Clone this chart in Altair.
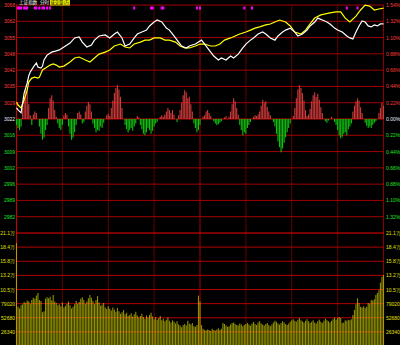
import altair as alt
import pandas as pd

# ---------------- data ----------------
BASE = 3022.3  # previous close (0.00%)

pct_ticks = [1.54, 1.32, 1.10, 0.88, 0.66, 0.44, 0.22, 0.00,
             -0.22, -0.44, -0.66, -0.88, -1.10, -1.32]
left_labels = ["3068", "3062", "3055", "3048", "3042", "3035", "3029", "3022",
               "3016", "3009", "3002", "2996", "2989", "2982"]
right_labels = ["1.54%", "1.32%", "1.10%", "0.88%", "0.66%", "0.44%", "0.22%", "0.00%",
                "0.22%", "0.44%", "0.66%", "0.88%", "1.10%", "1.32%"]

vol_ticks = [21.072, 18.438, 15.804, 13.170, 10.536, 7.902, 5.268, 2.634]
vol_labels = ["21.1万", "18.4万", "15.8万", "13.2万", "10.5万", "79020", "52680", "26340"]

time_grid = [0, 30, 60, 90, 120, 150, 180, 210, 240]

# index line (white)
white_min = [0, 1, 3, 4, 5, 7, 8, 9, 11, 13, 14, 16, 17, 18, 20, 23, 26, 28, 31, 35,
             38, 41, 43, 46, 49, 51, 54, 58, 61, 64, 66, 69, 71, 74, 77, 79, 82, 85, 87, 90,
             92, 95, 98, 100, 103, 106, 108, 111, 113, 117, 119, 121, 124, 127, 129, 132, 134, 137, 140, 142,
             145, 148, 150, 153, 155, 158, 161, 163, 166, 169, 171, 174, 176, 179, 182, 184, 187, 190, 192, 195,
             197, 200, 203, 205, 208, 210, 213, 216, 218, 220, 222, 224, 226, 228, 230, 232, 234, 236, 238, 240]
white_val = [3026.8, 3026.0, 3024.8, 3028.8, 3032.9, 3037.0, 3039.9, 3041.5, 3043.5, 3045.2,
             3043.5, 3043.1, 3043.9, 3046.4, 3048.4, 3049.6, 3050.1, 3050.5, 3051.7, 3053.3,
             3055.4, 3055.8, 3053.7, 3051.7, 3052.5, 3054.5, 3056.2, 3056.6, 3055.4, 3057.0,
             3057.8, 3055.4, 3052.1, 3052.9, 3055.4, 3057.0, 3057.8, 3058.6, 3060.3, 3061.9,
             3062.7, 3061.9, 3059.4, 3058.6, 3056.2, 3053.7, 3052.1, 3051.3, 3052.1, 3052.9,
             3053.7, 3054.5, 3052.1, 3049.6, 3048.0, 3046.4, 3047.2, 3046.4, 3048.0, 3047.2,
             3048.8, 3051.3, 3052.9, 3054.5, 3055.4, 3057.0, 3057.8, 3057.0, 3055.4, 3054.5,
             3056.2, 3057.8, 3058.6, 3059.4, 3057.8, 3056.2, 3057.0, 3058.6, 3060.3, 3061.9,
             3063.5, 3062.7, 3061.9, 3061.1, 3059.4, 3058.6, 3057.8, 3056.2, 3055.4, 3055.0,
             3057.8, 3060.3, 3062.3, 3061.9, 3060.3, 3059.9, 3060.7, 3060.3, 3061.1, 3061.1]

# leading line (yellow)
yellow_min = [0, 1, 3, 5, 7, 8, 10, 12, 14, 15, 17, 20, 22, 24, 26, 28, 31, 35, 38, 41,
              45, 48, 51, 54, 58, 61, 64, 68, 71, 74, 77, 81, 84, 87, 90, 94, 97, 100, 104, 107,
              110, 113, 117, 120, 123, 127, 130, 133, 136, 140, 143, 146, 150, 153, 156, 159, 163, 166, 169, 172,
              176, 179, 182, 186, 189, 192, 195, 199, 202, 205, 209, 212, 215, 218, 222, 225, 228, 231, 234, 237, 240]
yellow_val = [3029.2, 3028.0, 3026.8, 3030.1, 3034.1, 3037.4, 3039.0, 3039.4, 3039.0, 3039.4,
              3042.3, 3043.5, 3044.3, 3044.8, 3044.3, 3043.5, 3043.9, 3045.6, 3047.2, 3047.6,
              3046.4, 3045.6, 3047.2, 3048.8, 3049.6, 3050.5, 3052.1, 3052.9, 3051.7, 3051.3,
              3052.9, 3053.7, 3054.5, 3054.5, 3055.4, 3055.4, 3054.5, 3054.5, 3053.7, 3052.1,
              3051.3, 3051.3, 3052.1, 3052.9, 3052.9, 3052.1, 3052.1, 3052.9, 3054.5, 3055.4,
              3056.2, 3057.0, 3057.8, 3058.6, 3059.4, 3059.9, 3060.7, 3061.1, 3061.9, 3062.7,
              3061.9, 3060.3, 3057.8, 3057.0, 3058.6, 3061.1, 3063.5, 3064.8, 3065.2, 3065.6,
              3066.0, 3066.0, 3063.5, 3061.9, 3064.3, 3066.8, 3068.8, 3068.4, 3066.8, 3067.2, 3067.6]

# red / green strength bars (basis points, one per minute)
strength = [-8, -12, -15, -10, 15, 30, 42, 38, 20, 5,
            -8, 6, 10, 8, 0, -10, -20, -28, -25, -15,
            -8, 15, 28, 32, 25, 12, 3, -6, -12, -15,
            -8, 5, 8, 6, -10, -20, -28, -25, -18, -8,
            8, 10, 6, -6, -4, 10, 18, 23, 20, 10,
            -6, -12, -18, -15, -16, -10, -12, -5, 0, 5,
            7, 4, 15, 25, 35, 42, 46, 40, 30, 15,
            0, -8, -14, -18, -15, -12, -16, -10, -6, 4,
            2, -8, -14, -20, -22, -18, -12, -15, -20, -16,
            -10, -6, -4, 0, 3, 5, 3, 6, 10, 15,
            12, 8, 12, 6, 0, -4, 5, 12, 22, 32,
            39, 36, 28, 30, 20, 10, -6, -12, -18, -15,
            -8, 0, 3, 5, 10, 12, 8, 4, 0, -3,
            -6, -8, -7, -5, -3, 0, 2, 4, 0, 3,
            10, 20, 28, 24, 15, 6, -8, -15, -22, -18,
            -20, -12, -8, -4, 0, 3, 5, 4, 6, 10,
            18, 26, 22, 24, 16, 10, 5, 0, -4, -10,
            -20, -30, -38, -45, -40, -32, -25, -18, -12, -6,
            0, 4, 15, 28, 40, 46, 42, 35, 25, 12,
            4, 6, 14, 24, 32, 36, 30, 34, 26, 16,
            8, 0, -3, -5, -2, 0, 3, 0, -4, -8,
            -15, -22, -26, -24, -20, -18, -22, -14, -10, -6,
            10, 18, 24, 28, 25, 16, 8, 0, -5, -9,
            -12, -10, -12, -8, -5, -3, 0, 8, 15, 22,
            18]

# volume per minute (万)
volume = [19.2, 7.3, 7.0, 7.6, 7.8, 8.2, 8.0, 8.5, 8.3, 7.9,
          8.6, 9.0, 8.8, 9.4, 9.9, 8.6, 8.4, 6.3, 6.5, 8.8,
          9.1, 8.9, 9.2, 8.5, 9.5, 8.3, 8.0, 7.6, 7.8, 7.4,
          8.1, 7.2, 7.5, 7.9, 8.3, 7.6, 7.0, 7.3, 7.8, 8.4,
          7.9, 8.2, 8.8, 9.1, 8.6, 7.9, 8.3, 8.9, 9.5, 9.0,
          8.4, 7.8, 8.6, 9.3, 8.1, 7.5, 7.7, 8.0, 7.2, 6.9,
          7.4, 7.0, 6.6, 7.2, 6.8, 6.4, 7.1, 6.5, 6.0, 6.3,
          6.7, 5.9, 6.2, 5.6, 5.8, 6.1, 5.5, 5.9, 6.4, 5.7,
          5.3, 5.6, 6.0, 5.4, 5.1, 5.7, 5.3, 5.8, 6.2, 5.5,
          5.0, 5.4, 4.9, 5.2, 5.6, 4.8, 5.1, 4.6, 4.9, 5.3,
          4.7, 4.4, 4.8, 4.5, 4.2, 4.6, 4.0, 3.8, 3.5, 3.9,
          4.1, 3.8, 4.7, 4.2, 4.0, 4.3, 3.7, 3.6, 3.9, 9.4,
          8.3, 3.9, 3.2, 3.0, 2.9, 3.1, 3.0, 2.8, 3.2, 3.0,
          2.9, 3.1, 3.3, 3.0, 3.2, 4.3, 4.1, 3.8, 3.6, 3.7,
          4.0, 4.3, 4.4, 4.1, 3.9, 3.8, 4.2, 4.0, 3.7, 3.9,
          4.1, 4.3, 4.0, 3.8, 4.2, 4.5, 4.1, 3.9, 4.4, 4.6,
          4.2, 4.0, 3.8, 4.1, 4.3, 3.9, 3.7, 4.0, 4.4, 4.7,
          4.5, 4.2, 4.0, 4.3, 4.6, 4.4, 4.1, 3.9, 4.2, 4.5,
          4.8, 5.0, 4.7, 4.5, 4.9, 5.2, 4.8, 4.6, 4.4, 4.7,
          5.0, 4.6, 4.3, 4.5, 4.8, 4.4, 4.2, 4.6, 4.9, 4.5,
          4.3, 4.7, 5.1, 4.8, 4.6, 4.4, 4.7, 5.0, 5.3, 4.9,
          5.2, 5.4, 5.2, 4.3, 4.4, 4.8, 4.7, 4.9, 4.8, 5.0,
          5.8, 6.7, 7.8, 8.9, 8.0, 7.3, 7.2, 7.4, 7.1, 7.3,
          8.0, 7.9, 8.6, 8.5, 8.7, 9.5, 9.9, 10.4, 11.8, 12.9,
          13.2]

marker_min = [1, 2, 3, 5, 6, 7, 12, 13, 15, 17, 18, 20, 22,
              77, 88, 89, 95, 96, 118, 120, 149, 154, 216, 223]

title_words = ["上证指数", "分时", "成交量(万)"]

# ---------------- frames ----------------
price_ticks = pd.DataFrame({
    "price": [BASE * (1 + p / 100) for p in pct_ticks],
    "pct": pct_ticks,
    "left": left_labels,
    "right": right_labels,
})
price_ticks["tcolor"] = ["#ff3b3b" if p > 0 else ("#e8eeff" if p == 0 else "#22e022")
                         for p in pct_ticks]
price_ticks["gcolor"] = ["#c80000" if p == 0 else "#a00000" for p in pct_ticks]

vol_df = pd.DataFrame({"v": vol_ticks, "label": vol_labels})
grid_df = pd.DataFrame({"minute": time_grid})
grid_df["gcolor"] = ["#d00000" if m == 0 else ("#a00000" if m == 120 else ("#8a0000" if m == 240 else "#600000"))
                     for m in time_grid]

white_df = pd.DataFrame({"minute": white_min[:len(white_val)], "price": white_val[:len(white_min)]})
yellow_df = pd.DataFrame({"minute": yellow_min[:len(yellow_val)], "price": yellow_val[:len(yellow_min)]})
str_df = pd.DataFrame({"minute": list(range(len(strength))), "s": strength})
str_df["zero"] = 0
str_df["bcolor"] = ["#d03a3a" if s > 0 else "#10c010" for s in strength]
str_df = str_df[str_df["s"] != 0]
vol_bars = pd.DataFrame({"minute": list(range(len(volume))), "vol": volume})
vol_bars["zero"] = 0.0
mk_df = pd.DataFrame({"minute": marker_min})

# ---------------- scales ----------------
X = alt.Scale(domain=[0, 240], range=[18.2, 383])
GX = alt.Scale(domain=[0, 240], range=[16.5, 383.5])
Y_PRICE = alt.Scale(domain=[BASE * (1 - 0.0154), BASE * (1 + 0.0154)], range=[233, 5], zero=False, nice=False)
Y_STR = alt.Scale(domain=[-154, 154], range=[233, 5], zero=False, nice=False)
Y_VOL = alt.Scale(domain=[0, 21.072], range=[346, 233], zero=False, nice=False)

FONT = "Liberation Sans"
FS = 5.0

hgrid = alt.Chart(price_ticks).mark_rule(strokeWidth=1).encode(
    x=alt.value(16), x2=alt.value(384),
    y=alt.Y("price:Q", scale=Y_PRICE, axis=None),
    color=alt.Color("gcolor:N", scale=None),
)
vgrid = alt.Chart(grid_df).mark_rule(strokeWidth=1).encode(
    x=alt.X("minute:Q", scale=GX, axis=None),
    y=alt.value(5), y2=alt.value(345),
    color=alt.Color("gcolor:N", scale=None),
)
vgrid_lines = alt.Chart(vol_df).mark_rule(strokeWidth=1).encode(
    x=alt.value(16), x2=alt.value(384),
    y=alt.Y("v:Q", scale=Y_VOL, axis=None),
    color=alt.condition(alt.datum.v > 21, alt.value("#f00000"), alt.value("#b00000")),
)
vbars = alt.Chart(vol_bars).mark_rule(strokeWidth=1.1, opacity=0.72).encode(
    x=alt.X("minute:Q", scale=X, axis=None),
    y=alt.Y("vol:Q", scale=Y_VOL, axis=None),
    y2="zero:Q",
    color=alt.value("#c8c800"),
)
sbars = alt.Chart(str_df).mark_rule(strokeWidth=1.1).encode(
    x=alt.X("minute:Q", scale=X, axis=None),
    y=alt.Y("s:Q", scale=Y_STR, axis=None),
    y2="zero:Q",
    color=alt.Color("bcolor:N", scale=None),
)
yline = alt.Chart(yellow_df).mark_line(strokeWidth=1.2, color="#ffff00").encode(
    x=alt.X("minute:Q", scale=X, axis=None),
    y=alt.Y("price:Q", scale=Y_PRICE, axis=None),
)
wline = alt.Chart(white_df).mark_line(strokeWidth=1.2, color="#ffffff").encode(
    x=alt.X("minute:Q", scale=X, axis=None),
    y=alt.Y("price:Q", scale=Y_PRICE, axis=None),
)
left_txt = alt.Chart(price_ticks).mark_text(align="right", baseline="middle", font=FONT,
                                             fontSize=FS).encode(
    x=alt.value(15), y=alt.Y("price:Q", scale=Y_PRICE, axis=None),
    text="left:N", color=alt.Color("tcolor:N", scale=None),
)
right_txt = alt.Chart(price_ticks).mark_text(align="left", baseline="middle", font=FONT,
                                              fontSize=FS).encode(
    x=alt.value(386), y=alt.Y("price:Q", scale=Y_PRICE, axis=None),
    text="right:N", color=alt.Color("tcolor:N", scale=None),
)
vleft_txt = alt.Chart(vol_df).mark_text(align="right", baseline="middle", font=FONT,
                                        fontSize=FS, color="#e0e000").encode(
    x=alt.value(15), y=alt.Y("v:Q", scale=Y_VOL, axis=None), text="label:N",
)
vright_txt = alt.Chart(vol_df).mark_text(align="left", baseline="middle", font=FONT,
                                         fontSize=FS, color="#e0e000").encode(
    x=alt.value(386), y=alt.Y("v:Q", scale=Y_VOL, axis=None), text="label:N",
)
markers = alt.Chart(mk_df).mark_rule(strokeWidth=2, color="#ff00ff").encode(
    x=alt.X("minute:Q", scale=X, axis=None),
    y=alt.value(6.5), y2=alt.value(9.5),
)
title_a = alt.Chart(pd.DataFrame({"t": [title_words[0]]})).mark_text(
    align="left", baseline="middle", font="Noto Sans CJK SC", fontSize=4.6, color="#ffffff").encode(
    x=alt.value(19), y=alt.value(3), text="t:N")
title_b = alt.Chart(pd.DataFrame({"t": [title_words[1]]})).mark_text(
    align="left", baseline="middle", font="Noto Sans CJK SC", fontSize=4.6, color="#ffffff").encode(
    x=alt.value(40), y=alt.value(3), text="t:N")
title_bg = alt.Chart(pd.DataFrame({"a": [0]})).mark_rect(color="#e8e800").encode(
    x=alt.value(50), x2=alt.value(70), y=alt.value(0), y2=alt.value(5.5))
title_c = alt.Chart(pd.DataFrame({"t": [title_words[2]]})).mark_text(
    align="left", baseline="middle", font="Noto Sans CJK SC", fontSize=4.3, color="#000000").encode(
    x=alt.value(50.5), y=alt.value(3), text="t:N")

chart = alt.layer(
    vgrid, hgrid, vgrid_lines, vbars, sbars, yline, wline,
    left_txt, right_txt, vleft_txt, vright_txt, markers,
    title_a, title_b, title_bg, title_c,
).resolve_scale(y="independent").properties(
    width=400, height=345,
    autosize=alt.AutoSizeParams(type="none"),
    padding=0,
).configure(background="#000000").configure_view(strokeWidth=0)

chart.save("out.html", embed_options={"renderer": "svg", "actions": False})
